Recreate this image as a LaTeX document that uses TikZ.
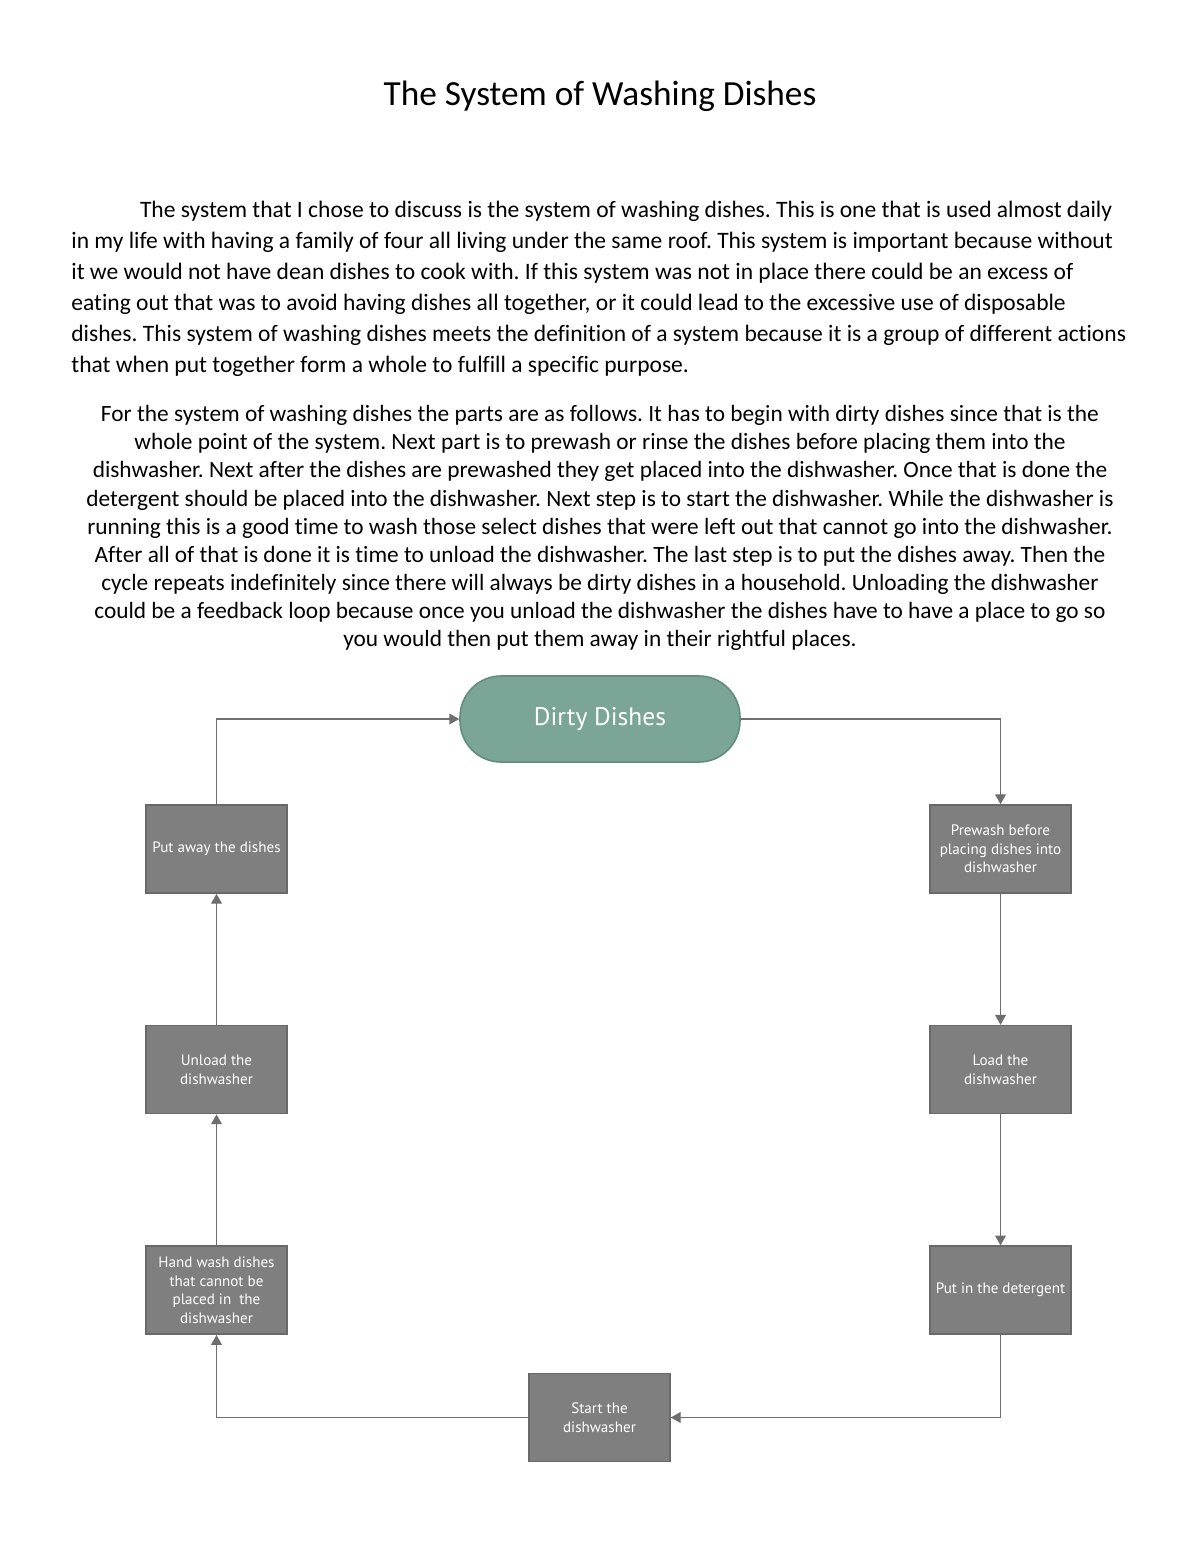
\documentclass[tikz,border=0pt]{standalone}
\usepackage{fontspec}
\setmainfont{Carlito}[Ligatures=NoCommon]
\newfontfamily\boxfont{PT Sans}
\frenchspacing
\usetikzlibrary{arrows.meta, positioning}
\definecolor{teal1}{RGB}{122, 165, 151}
\definecolor{teal2}{RGB}{98, 140, 127}
\definecolor{gray1}{RGB}{127, 127, 127}
\definecolor{gray2}{RGB}{105, 105, 105}
\definecolor{gray3}{RGB}{110, 110, 110}

\begin{document}
\begin{tikzpicture}[
    x=0.51pt, y=-0.51pt,
    stepbox/.style={
      rectangle, draw=gray2, line width=0.8pt, fill=gray1,
      minimum width=71.9pt, minimum height=44.9pt, inner sep=1pt,
      align=center, text=white, font=\boxfont\fontsize{7.7}{9.4}\selectfont
    },
    startbox/.style={
      rectangle, rounded corners=21pt, draw=teal2, line width=0.8pt,
      fill=teal1, minimum width=142.8pt, minimum height=43.9pt,
      text=white, font=\boxfont\fontsize{13}{15}\selectfont
    },
    para/.style={inner sep=0pt, text=black},
    arr/.style={-{Triangle[length=5pt, width=5.5pt]}, line width=0.6pt, gray3},
  ]

  \useasboundingbox (0,0) rectangle (1200,1553);

  % Title and text
  \node[anchor=base, font=\fontsize{18}{21}\selectfont] (title) at (600,106) {The System of Washing Dishes};

  \node[para, anchor=north west, align=left, font=\fontsize{12}{15.81}\selectfont] (intro) at (71,201)
    {\hspace*{35pt}The system that I chose to discuss is the system of washing dishes. This is one that is used almost daily\\
     in my life with having a family of four all living under the same roof. This system is important because without\\
     it we would not have dean dishes to cook with. If this system was not in place there could be an excess of\\
     eating out that was to avoid having dishes all together, or it could lead to the excessive use of disposable\\
     dishes. This system of washing dishes meets the definition of a system because it is a group of different actions\\
     that when put together form a whole to fulfill a specific purpose.};

  \node[para, anchor=north, align=center, font=\fontsize{11.9}{14.35}\selectfont] (parts) at (600,405)
    {For the system of washing dishes the parts are as follows. It has to begin with dirty dishes since that is the\\
     whole point of the system. Next part is to prewash or rinse the dishes before placing them into the\\
     dishwasher. Next after the dishes are prewashed they get placed into the dishwasher. Once that is done the\\
     detergent should be placed into the dishwasher. Next step is to start the dishwasher. While the dishwasher is\\
     running this is a good time to wash those select dishes that were left out that cannot go into the dishwasher.\\
     After all of that is done it is time to unload the dishwasher. The last step is to put the dishes away. Then the\\
     cycle repeats indefinitely since there will always be dirty dishes in a household. Unloading the dishwasher\\
     could be a feedback loop because once you unload the dishwasher the dishes have to have a place to go so\\
     you would then put them away in their rightful places.};

  % Steps
  \node[startbox] (dirty) at (600,719) {Dirty Dishes};
  \node[stepbox] (prewash) at (1000.5,849) {Prewash before\\placing dishes into\\dishwasher};
  \node[stepbox, below=66.8pt of prewash] (load) {Load the\\dishwasher};
  \node[stepbox, below=66.8pt of load] (detergent) {Put in the detergent};
  \node[stepbox] (start) at (599.5,1417.5) {Start the\\dishwasher};
  \node[stepbox] (putaway) at (216.5,849) {Put away the dishes};
  \node[stepbox, below=66.8pt of putaway] (unload) {Unload the\\dishwasher};
  \node[stepbox, below=66.8pt of unload] (handwash) {Hand wash dishes\\that cannot be\\placed in~ the\\dishwasher};

  % Arrows
  \draw[arr] (dirty.east) -| (prewash.north);
  \draw[arr] (prewash) -- (load);
  \draw[arr] (load) -- (detergent);
  \draw[arr] (detergent.south) |- (start.east);
  \draw[arr] (start.west) -| (handwash.south);
  \draw[arr] (handwash) -- (unload);
  \draw[arr] (unload) -- (putaway);
  \draw[arr] (putaway.north) |- (dirty.west);

\end{tikzpicture}
\end{document}
